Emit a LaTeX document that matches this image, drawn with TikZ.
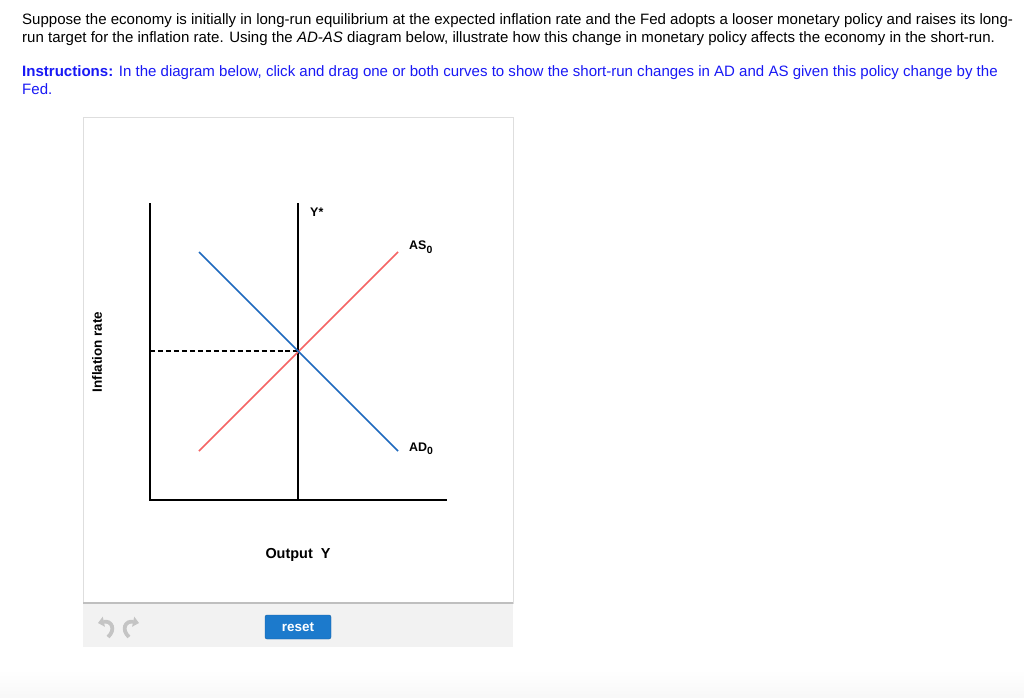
\documentclass[tikz,border=0pt]{standalone}
\usepackage{fontspec}
\setmainfont{Liberation Sans}
\usetikzlibrary{arrows.meta}

\definecolor{linkblue}{RGB}{25,25,245}
\definecolor{asred}{RGB}{245,100,100}
\definecolor{adblue}{RGB}{30,105,190}
\definecolor{btnblue}{RGB}{28,122,204}
\definecolor{footgray}{RGB}{242,242,242}
\definecolor{framegray}{RGB}{222,222,222}
\definecolor{icongray}{RGB}{196,196,196}

\newcommand{\subzero}{\raisebox{-3.5pt}{\fontsize{10.5}{11}\selectfont 0}}

\tikzset{
  question/.style={anchor=north west, inner sep=0pt, align=left, font=\fontsize{15.1}{18.3}\selectfont},
  curvelabel/.style={anchor=west, inner sep=0pt, font=\fontsize{12.5}{14}\selectfont\bfseries},
  axislabel/.style={inner sep=0pt, font=\fontsize{14.5}{16}\selectfont\bfseries},
  axisline/.style={line width=1.6pt, black},
  icon/.style={line width=3.8pt, icongray, -{Triangle[length=6pt,width=10pt]}}
}

\begin{document}
\begin{tikzpicture}[x=1bp, y=-1bp]
\useasboundingbox (0,0) rectangle (1024,698);
\fill[white] (0,0) rectangle (1024,698);
\shade[top color=white, bottom color=black!3] (0,670) rectangle (1024,698);

% question text
\node[question] (q) at (22,13.5) {Suppose the economy is initially in long-run equilibrium at the expected inflation rate and the Fed adopts a looser monetary policy and raises its long-\\run target for the inflation rate. Using the \textit{AD-AS} diagram below, illustrate how this change in monetary policy affects the economy in the short-run.};
\node[question, text=linkblue] (instr) at (22,65.5) {\textbf{Instructions:} In the diagram below, click and drag one or both curves to show the short-run changes in AD and AS given this policy change by the\\Fed.};

% panel
\fill[footgray] (83,603) rectangle (513,647);
\draw[framegray, line width=1pt] (83,603) rectangle (513,117);
\draw[black!25, line width=1.2pt] (83,603) -- (513,603);

% axes
\coordinate (origin) at (150,500);
\coordinate (ytop) at (150,203);
\coordinate (xend) at (447,500);
\coordinate (ystartop) at (298,203);
\coordinate (ystarbot) at (298,500);
\coordinate (eq) at (298,351);
\coordinate (eqaxis) at (150,351);
\draw[axisline] (ytop) -- (origin) -- (xend);
\draw[axisline] (ystartop) -- (ystarbot);
\draw[black, line width=1.4pt, dash pattern=on 5pt off 3pt] (eqaxis) -- (eq);

% curves
\coordinate (asstart) at (199,451);
\coordinate (asend) at (398,252);
\coordinate (adstart) at (199,252);
\coordinate (adend) at (398,451);
\draw[asred, line width=1.5pt] (asstart) -- (asend);
\draw[adblue, line width=1.5pt] (adstart) -- (adend);

% labels
\node[curvelabel] (ystar) at (310,212) {Y*};
\node[curvelabel] (aslabel) at (409,247) {AS\subzero};
\node[curvelabel] (adlabel) at (409,449) {AD\subzero};
\node[axislabel] (ylabel) at (298,555) {Output\ \ Y};
\node[axislabel, rotate=90, font=\fontsize{13.5}{15}\selectfont\bfseries] (plabel) at (97,352) {Inflation rate};

% footer controls
\node[fill=btnblue, draw=btnblue!80!black, rounded corners=2pt, minimum width=66bp, minimum height=24bp, inner sep=0pt, text=white, font=\fontsize{13.5}{15}\selectfont\bfseries] (reset) at (298,627) {reset};
\draw[icon] (108,637) .. controls (116,630) and (112,620) .. (98,623);
\draw[icon] (129,637) .. controls (121,630) and (125,620) .. (139,623);
\end{tikzpicture}
\end{document}
